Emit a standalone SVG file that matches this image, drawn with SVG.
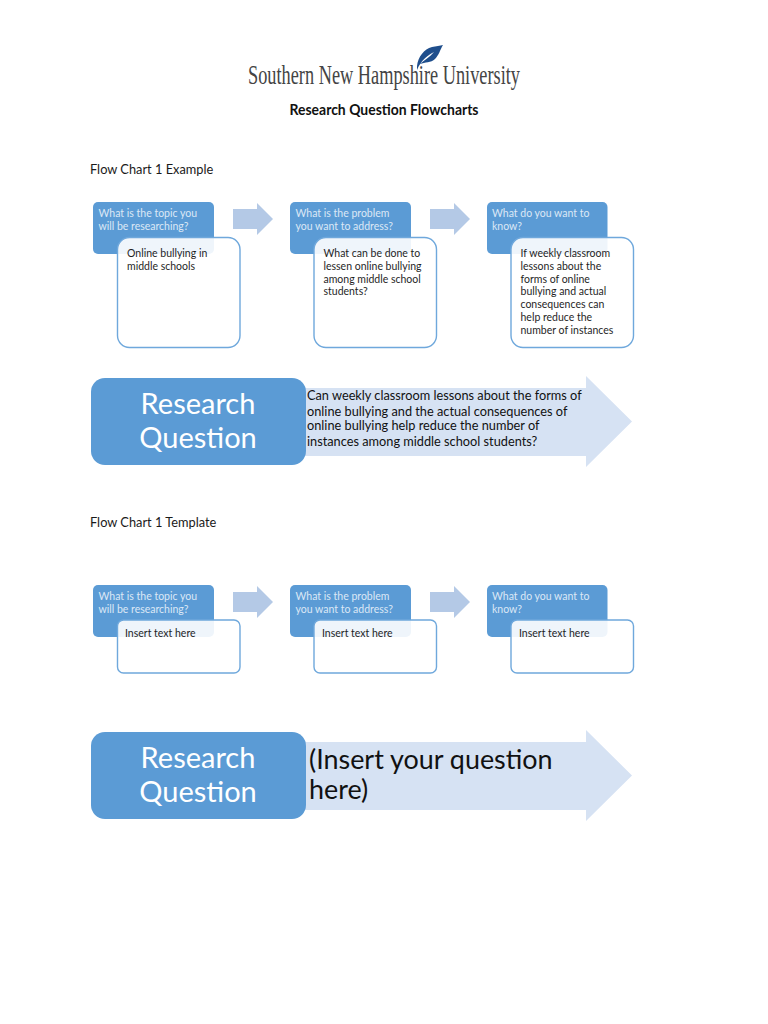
<svg xmlns="http://www.w3.org/2000/svg" width="768" height="1024" viewBox="0 0 768 1024">
<style>
text{font-family:"Lato","Carlito","Liberation Sans",sans-serif}
.h{font-size:12.8px;fill:#1a1a1a}
.q{font-size:10.5px;fill:#dbe8f5}
.a{font-size:10.5px;fill:#1f1f1f}
.back{fill:#5b9bd5}
.front{fill:#fff;fill-opacity:.9;stroke:#6fa8dc;stroke-width:1.4}
.small{fill:#b4c9e6}
.big{fill:#d6e2f3}
.rq{fill:#5b9bd5}
.rqt{font-size:29px;fill:#fff;text-anchor:middle}
.ans{font-size:12.75px;fill:#111}
.ansb{font-size:26.9px;fill:#111}
</style>
<rect width="768" height="1024" fill="#fff"/>
<g id="logo">
<path d="M417 66C418 57 424 49 432 47C436 46 440 46 443 45C440 50 439 55 435 59C431 63 425 62 420 64C424 60 430 57 434 52C428 55 421 60 417 70Z" fill="#1f4e8c"/>
<text x="248" y="84" font-size="28" textLength="272" lengthAdjust="spacingAndGlyphs" style="font-family:'Liberation Serif',serif;fill:#444">Southern New Hampshire University</text>
</g>
<text id="title" x="384" y="115" font-size="14.6" font-weight="700" text-anchor="middle" fill="#111" textLength="189" lengthAdjust="spacingAndGlyphs">Research Question Flowcharts</text>
<text id="h1" x="90" y="174" class="h">Flow Chart 1 Example</text>
<text id="h2" x="90" y="527" class="h">Flow Chart 1 Template</text>
<g id="connectors">
<path class="small" d="M233 209H257V203L273 219L257 235V229H233Z"/>
<path class="small" d="M430 209H454V203L470 219L454 235V229H430Z"/>
<path class="small" d="M233 592H257V586L273 602L257 618V612H233Z"/>
<path class="small" d="M430 592H454V586L470 602L454 618V612H430Z"/>
</g>
<g id="ex-node-1">
<rect class="back" x="93" y="202" width="121" height="52" rx="5"/>
<text class="q" x="98.500" y="217">What is the topic you</text><text class="q" x="98.500" y="229.500">will be researching?</text>
<rect class="front" x="117.500" y="237.500" width="122.500" height="110" rx="12"/>
<text class="a" x="127" y="257">Online bullying in</text><text class="a" x="127" y="269.500">middle schools</text>
</g>
<g id="ex-node-2">
<rect class="back" x="290" y="202" width="121" height="52" rx="5"/>
<text class="q" x="295.500" y="217">What is the problem</text><text class="q" x="295.500" y="229.500">you want to address?</text>
<rect class="front" x="314" y="237.500" width="122.500" height="110" rx="12"/>
<text class="a" x="323.500" y="257">What can be done to</text><text class="a" x="323.500" y="269.500">lessen online bullying</text><text class="a" x="323.500" y="283">among middle school</text><text class="a" x="323.500" y="295">students?</text>
</g>
<g id="ex-node-3">
<rect class="back" x="487" y="202" width="120.500" height="52" rx="5"/>
<text class="q" x="492" y="217">What do you want to</text><text class="q" x="492" y="229.500">know?</text>
<rect class="front" x="511" y="237.500" width="122.500" height="110" rx="12"/>
<text class="a" x="520.500" y="257">If weekly classroom</text><text class="a" x="520.500" y="269.500">lessons about the</text><text class="a" x="520.500" y="282.500">forms of online</text><text class="a" x="520.500" y="295">bullying and actual</text><text class="a" x="520.500" y="308">consequences can</text><text class="a" x="520.500" y="320.500">help reduce the</text><text class="a" x="520.500" y="333.500">number of instances</text>
</g>
<g id="ex-question">
<path class="big" d="M300 388H586V376L632 421.500L586 467V456H300Z"/>
<rect class="rq" x="91" y="378" width="215" height="87" rx="14"/>
<text class="rqt" x="198" y="414">Research</text><text class="rqt" x="198" y="448">Question</text>
<text class="ans" x="307" y="400">Can weekly classroom lessons about the forms of</text>
<text class="ans" x="307" y="415.500">online bullying and the actual consequences of</text>
<text class="ans" x="307" y="430">online bullying help reduce the number of</text>
<text class="ans" x="307" y="445.500">instances among middle school students?</text>
</g>
<g id="tpl-node-1">
<rect class="back" x="93" y="585" width="121" height="52" rx="5"/>
<text class="q" x="98.500" y="600">What is the topic you</text><text class="q" x="98.500" y="612.500">will be researching?</text>
<rect class="front" x="117.500" y="620" width="122.500" height="53" rx="6"/>
<text class="a" x="125" y="637">Insert text here</text>
</g>
<g id="tpl-node-2">
<rect class="back" x="290" y="585" width="121" height="52" rx="5"/>
<text class="q" x="295.500" y="600">What is the problem</text><text class="q" x="295.500" y="612.500">you want to address?</text>
<rect class="front" x="314" y="620" width="122.500" height="53" rx="6"/>
<text class="a" x="322" y="637">Insert text here</text>
</g>
<g id="tpl-node-3">
<rect class="back" x="487" y="585" width="120.500" height="52" rx="5"/>
<text class="q" x="492" y="600">What do you want to</text><text class="q" x="492" y="612.500">know?</text>
<rect class="front" x="511" y="620" width="122.500" height="53" rx="6"/>
<text class="a" x="519" y="637">Insert text here</text>
</g>
<g id="tpl-question">
<path class="big" d="M300 742H586V730L632 775.500L586 821V810H300Z"/>
<rect class="rq" x="91" y="732" width="215" height="87" rx="14"/>
<text class="rqt" x="198" y="768">Research</text><text class="rqt" x="198" y="802">Question</text>
<text class="ansb" x="309" y="769">(Insert your question</text>
<text class="ansb" x="309" y="799">here)</text>
</g>
</svg>
